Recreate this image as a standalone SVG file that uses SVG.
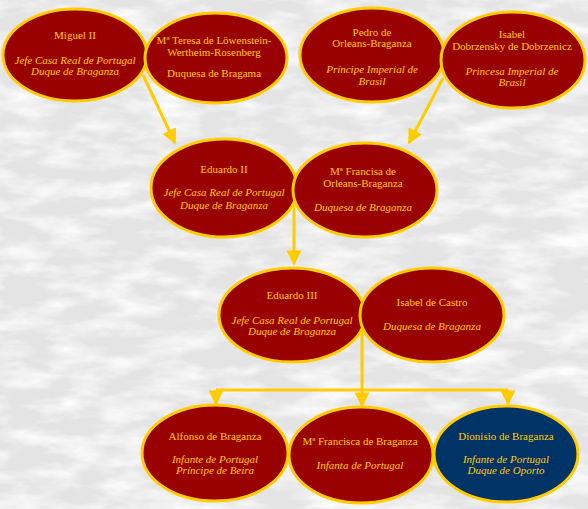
<svg xmlns="http://www.w3.org/2000/svg" width="588" height="509" viewBox="0 0 588 509">
<defs>
<filter id="marble" x="0" y="0" width="100%" height="100%">
<feTurbulence type="fractalNoise" baseFrequency="0.02 0.06" numOctaves="4" seed="3" result="n"/>
<feColorMatrix in="n" type="matrix" values="0 0 0 0 1  0 0 0 0 1  0 0 0 0 1  0 0 0 -2.2 1.35"/>
</filter>
<marker id="ah" viewBox="0 0 10 10" refX="9" refY="5" markerWidth="5.5" markerHeight="5" markerUnits="strokeWidth" orient="auto">
<path d="M0,0 L10,5 L0,10 z" fill="#FFCC00"/>
</marker>
<style>
.n ellipse{fill:#990000;stroke:#FFCC00;stroke-width:3}
.n.blue ellipse{fill:#003366}
.n text{font-family:"Liberation Serif","Times New Roman",serif;font-size:11px;fill:#FFCC00;text-anchor:middle}
.n text.i{font-style:italic}
.c line{stroke:#FFCC00;stroke-width:3;fill:none}
</style>
</defs>
<rect width="588" height="509" fill="#E4E4E4"/>
<rect width="588" height="509" fill="#D8D8D8" filter="url(#marble)" opacity="0.9"/>
<g class="n" id="miguel">
<ellipse cx="75" cy="55" rx="72" ry="46"/>
<text x="75" y="39">Miguel II</text>
<text class="i" x="75" y="64">Jefe Casa Real de Portugal</text>
<text class="i" x="75" y="75">Duque de Braganza</text>
</g>
<g class="n" id="teresa">
<ellipse cx="216" cy="58" rx="71" ry="45"/>
<text x="214" y="44">Mª Teresa de Löwenstein-</text>
<text x="214" y="56">Wertheim-Rosenberg</text>
<text x="214" y="77">Duquesa de Bragama</text>
</g>
<g class="n" id="pedro">
<ellipse cx="372" cy="55" rx="72" ry="47"/>
<text x="372" y="36">Pedro de</text>
<text x="372" y="47">Orleans-Braganza</text>
<text class="i" x="372" y="73">Príncipe Imperial de</text>
<text class="i" x="372" y="85">Brasil</text>
</g>
<g class="n" id="isabel-d">
<ellipse cx="513" cy="60" rx="72" ry="48"/>
<text x="512" y="38">Isabel</text>
<text x="512" y="50">Dobrzensky de Dobrzenicz</text>
<text class="i" x="512" y="75">Princesa Imperial de</text>
<text class="i" x="512" y="86">Brasil</text>
</g>
<g class="n" id="eduardo2">
<ellipse cx="224" cy="188" rx="73" ry="49"/>
<text x="224" y="173">Eduardo II</text>
<text class="i" x="224" y="196">Jefe Casa Real de Portugal</text>
<text class="i" x="224" y="209">Duque de Braganza</text>
</g>
<g class="n" id="francisa">
<ellipse cx="365" cy="190" rx="72" ry="47"/>
<text x="363" y="175">Mª Francisa de</text>
<text x="363" y="187">Orleans-Braganza</text>
<text class="i" x="363" y="211">Duquesa de Braganza</text>
</g>
<g class="n" id="eduardo3">
<ellipse cx="292" cy="315" rx="73" ry="47"/>
<text x="292" y="299">Eduardo III</text>
<text class="i" x="292" y="324">Jefe Casa Real de Portugal</text>
<text class="i" x="292" y="335">Duque de Braganza</text>
</g>
<g class="n" id="castro">
<ellipse cx="432" cy="315" rx="72" ry="47"/>
<text x="432" y="306">Isabel de Castro</text>
<text class="i" x="432" y="330">Duquesa de Braganza</text>
</g>
<g class="n" id="alfonso">
<ellipse cx="215" cy="453" rx="73" ry="48"/>
<text x="215" y="440">Alfonso de Braganza</text>
<text class="i" x="215" y="463">Infante de Portugal</text>
<text class="i" x="215" y="474">Príncipe de Beira</text>
</g>
<g class="n" id="francisca">
<ellipse cx="361" cy="455" rx="72" ry="48"/>
<text x="360" y="445">Mª Francisca de Braganza</text>
<text class="i" x="360" y="469">Infanta de Portugal</text>
</g>
<g class="n blue" id="dionisio">
<ellipse cx="506" cy="454" rx="72" ry="48"/>
<text x="506" y="440">Dionisio de Braganza</text>
<text class="i" x="506" y="463">Infante de Portugal</text>
<text class="i" x="506" y="474">Duque de Oporto</text>
</g>
<g class="c" id="connectors">
<line x1="143" y1="75" x2="175" y2="143" marker-end="url(#ah)"/>
<line x1="443" y1="78" x2="409" y2="143" marker-end="url(#ah)"/>
<line x1="294" y1="206" x2="294" y2="264" marker-end="url(#ah)"/>
<line x1="362" y1="331" x2="362" y2="390"/>
<line x1="216" y1="390" x2="508" y2="390"/>
<line x1="216" y1="390" x2="216" y2="404" marker-end="url(#ah)"/>
<line x1="362" y1="390" x2="362" y2="406" marker-end="url(#ah)"/>
<line x1="508" y1="390" x2="508" y2="404" marker-end="url(#ah)"/>
</g>
</svg>
